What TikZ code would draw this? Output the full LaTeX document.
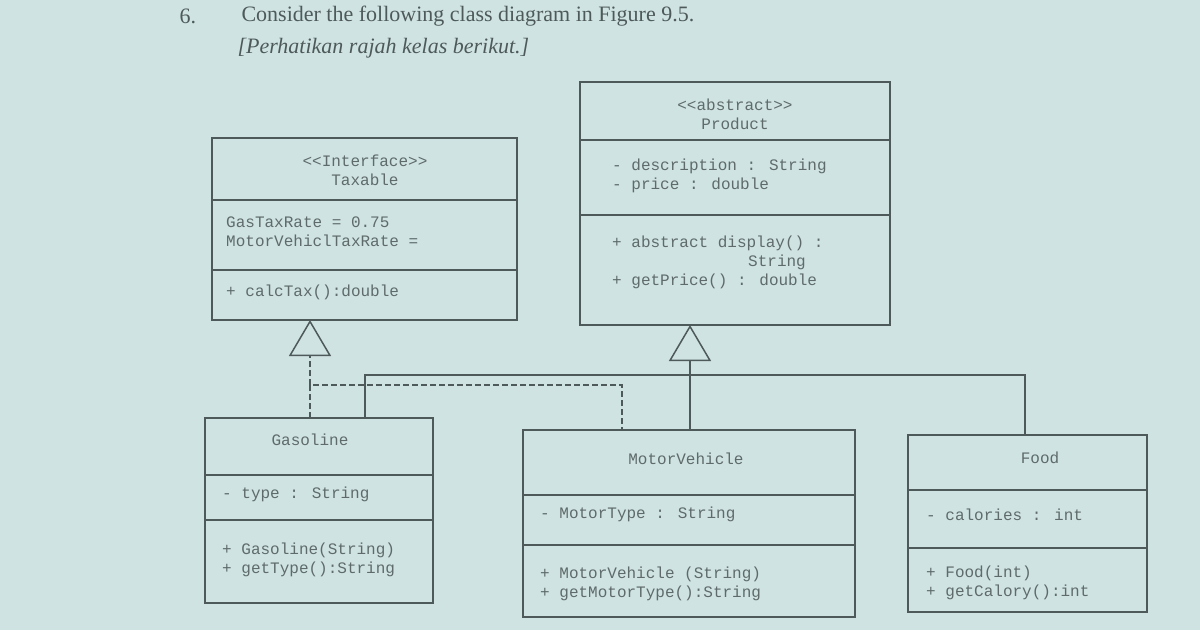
\documentclass[tikz,border=0pt]{standalone}
\usepackage{fontspec}
\setmainfont{Liberation Serif}
\newfontfamily\monof{Liberation Mono}
\usetikzlibrary{arrows.meta}
\definecolor{bg}{HTML}{CFE3E2}
\definecolor{ink}{HTML}{4E5A5A}
\definecolor{txt}{HTML}{5F6B6B}
\tikzset{
  box/.style={draw=ink,line width=1.6pt},
  sep/.style={draw=ink,line width=1.4pt},
  lbl/.style={font=\monof\fontsize{16}{19}\selectfont,text=txt,align=left,anchor=west,inner sep=0pt},
  ctr/.style={font=\monof\fontsize{16}{19}\selectfont,text=txt,align=center,inner sep=0pt},
  real/.style={draw=ink,line width=1.5pt,-{Triangle[open,width=42pt,length=36pt,line width=1.5pt]}},
  dsh/.style={draw=ink,line width=1.5pt,dash pattern=on 6pt off 3pt},
  conn/.style={draw=ink,line width=1.5pt},
}
\begin{document}
\begin{tikzpicture}[x=1pt,y=-1pt]
\fill[bg] (0,0) rectangle (1200,630);
\useasboundingbox (0,0) rectangle (1200,630);
% title
\node[anchor=west,text=ink,font=\fontsize{22}{24}\selectfont] (num) at (176,16) {6.};
\node[anchor=west,text=ink,font=\fontsize{22}{24}\selectfont] (title) at (238,16) {Consider the following class diagram in Figure 9.5.};
\node[anchor=west,text=ink,font=\itshape\fontsize{22}{24}\selectfont] (title2) at (234,48) {[Perhatikan rajah kelas berikut.]};
% Taxable
\draw[box] (212,138) rectangle (517,320);
\draw[sep] (212,200) -- (517,200); \draw[sep] (212,270) -- (517,270);
\node[ctr] (taxh) at (365,170) {<<Interface>>\\Taxable};
\node[lbl] (taxa) at (226,232) {GasTaxRate = 0.75\\MotorVehiclTaxRate =};
\node[lbl] (taxm) at (226,292) {+ calcTax():double};
\coordinate (taxb) at (310,320);
% Product
\draw[box] (580,82) rectangle (890,325);
\draw[sep] (580,140) -- (890,140); \draw[sep] (580,215) -- (890,215);
\node[ctr] (proh) at (735,114) {<<abstract>>\\Product};
\node[lbl] (proa) at (612,176) {- description : String\\- price : double};
\node[lbl] (prom) at (612,262) {+ abstract display() :\\\hspace*{8.5em}String\\+ getPrice() : double};
\coordinate (prob) at (690,325);
% Gasoline
\draw[box] (205,418) rectangle (433,603);
\draw[sep] (205,475) -- (433,475); \draw[sep] (205,520) -- (433,520);
\node[ctr] (gash) at (310,440) {Gasoline};
\node[lbl] (gasa) at (222,494) {- type : String};
\node[lbl] (gasm) at (222,560) {+ Gasoline(String)\\+ getType():String};
% MotorVehicle
\draw[box] (523,430) rectangle (855,617);
\draw[sep] (523,495) -- (855,495); \draw[sep] (523,545) -- (855,545);
\node[ctr] (mvh) at (686,459) {MotorVehicle};
\node[lbl] (mva) at (540,514) {- MotorType : String};
\node[lbl] (mvm) at (540,584) {+ MotorVehicle (String)\\+ getMotorType():String};
% Food
\draw[box] (908,435) rectangle (1147,612);
\draw[sep] (908,490) -- (1147,490); \draw[sep] (908,548) -- (1147,548);
\node[ctr] (fdh) at (1040,458) {Food};
\node[lbl] (fda) at (926,515) {- calories : int};
\node[lbl] (fdm) at (926,583) {+ Food(int)\\+ getCalory():int};
% connectors
\coordinate (j1) at (310,385);
\coordinate (j2) at (622,385);
\coordinate (k1) at (365,375);
\coordinate (k2) at (690,375);
\coordinate (k3) at (1025,375);
\draw[dsh] (310,418) -- (j1) -- (j2) -- (622,430);
\draw[dsh,-{Triangle[open,width=42pt,length=36pt,line width=1.5pt]}] (j1) -- (taxb);
\draw[conn] (365,418) -- (k1) -- (k3) -- (1025,435);
\draw[real] (690,430) -- (prob);
\end{tikzpicture}
\end{document}
